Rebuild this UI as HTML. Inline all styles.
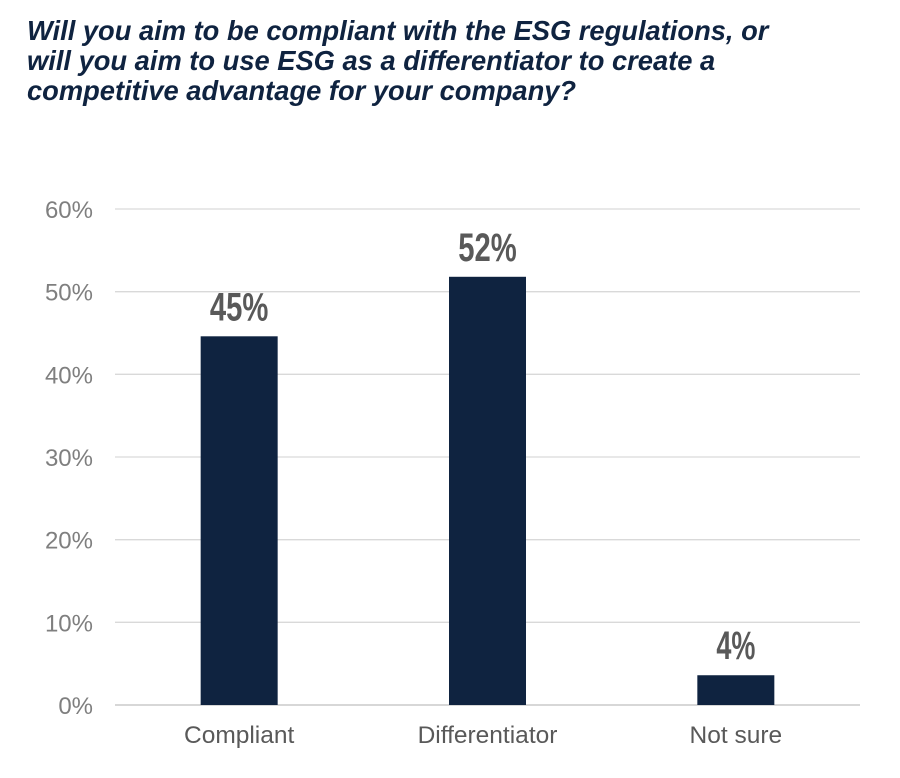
<!DOCTYPE html>
<html><head><meta charset="utf-8"><style>
html,body{margin:0;padding:0;background:#fff;width:900px;height:778px;overflow:hidden}
#title{position:absolute;left:27px;top:16px;margin:0;font:italic bold 27.3px/30px "Liberation Sans",Arial,sans-serif;color:#0f2340;white-space:nowrap}
svg{position:absolute;left:0;top:0}
</style></head><body>
<h1 id="title">Will you aim to be compliant with the ESG regulations, or<br>will you aim to use ESG as a differentiator to create a<br>competitive advantage for your company?</h1>
<svg id="chart" width="900" height="778"></svg>
<script>
const categories=["Compliant","Differentiator","Not sure"];
const values=[44.6,51.8,3.6];
const valueLabels=["45%","52%","4%"];
const ticks=[0,10,20,30,40,50,60];
const tickLabels=["0%","10%","20%","30%","40%","50%","60%"];
const svg=document.getElementById('chart');
const NS='http://www.w3.org/2000/svg';
const x0=115,x1=860,yBase=705,yTop=209,maxV=60;
const y=v=>yBase-(v/maxV)*(yBase-yTop);
const band=(x1-x0)/categories.length;
const xc=i=>x0+band*(i+0.5);
function mk(t,a){const e=document.createElementNS(NS,t);for(const k in a)e.setAttribute(k,a[k]);svg.appendChild(e);return e;}
ticks.forEach((t,i)=>{
 const g=mk('line',{x1:x0,x2:x1,y1:y(t),y2:y(t),stroke:t===0?'#bfbfbf':'#d9d9d9','stroke-width':1.3});
 
 
 const l=mk('text',{x:93,y:y(t)+9,'text-anchor':'end','font-family':'Liberation Sans, Arial, sans-serif','font-size':24,fill:'#7f7f7f'});
 l.textContent=tickLabels[i];
 
 
});
categories.forEach((c,i)=>{
 const bw=77;
 const b=mk('rect',{x:xc(i)-bw/2,y:y(values[i]),width:bw,height:yBase-y(values[i]),fill:'#0f2340'});
 
 
 const v=mk('text',{x:xc(i),y:y(values[i])-16,'text-anchor':'middle','font-family':'Liberation Sans Narrow, Liberation Sans, sans-serif','font-weight':'bold','font-size':40,fill:'#595959',textLength:valueLabels[i].length*19.5,lengthAdjust:'spacingAndGlyphs'});
 v.textContent=valueLabels[i];
 
 
 const cl=mk('text',{x:xc(i),y:743,'text-anchor':'middle','font-family':'Liberation Sans, Arial, sans-serif','font-size':24.5,fill:'#595959'});
 cl.textContent=c;
 
 
});
</script>
</body></html>
